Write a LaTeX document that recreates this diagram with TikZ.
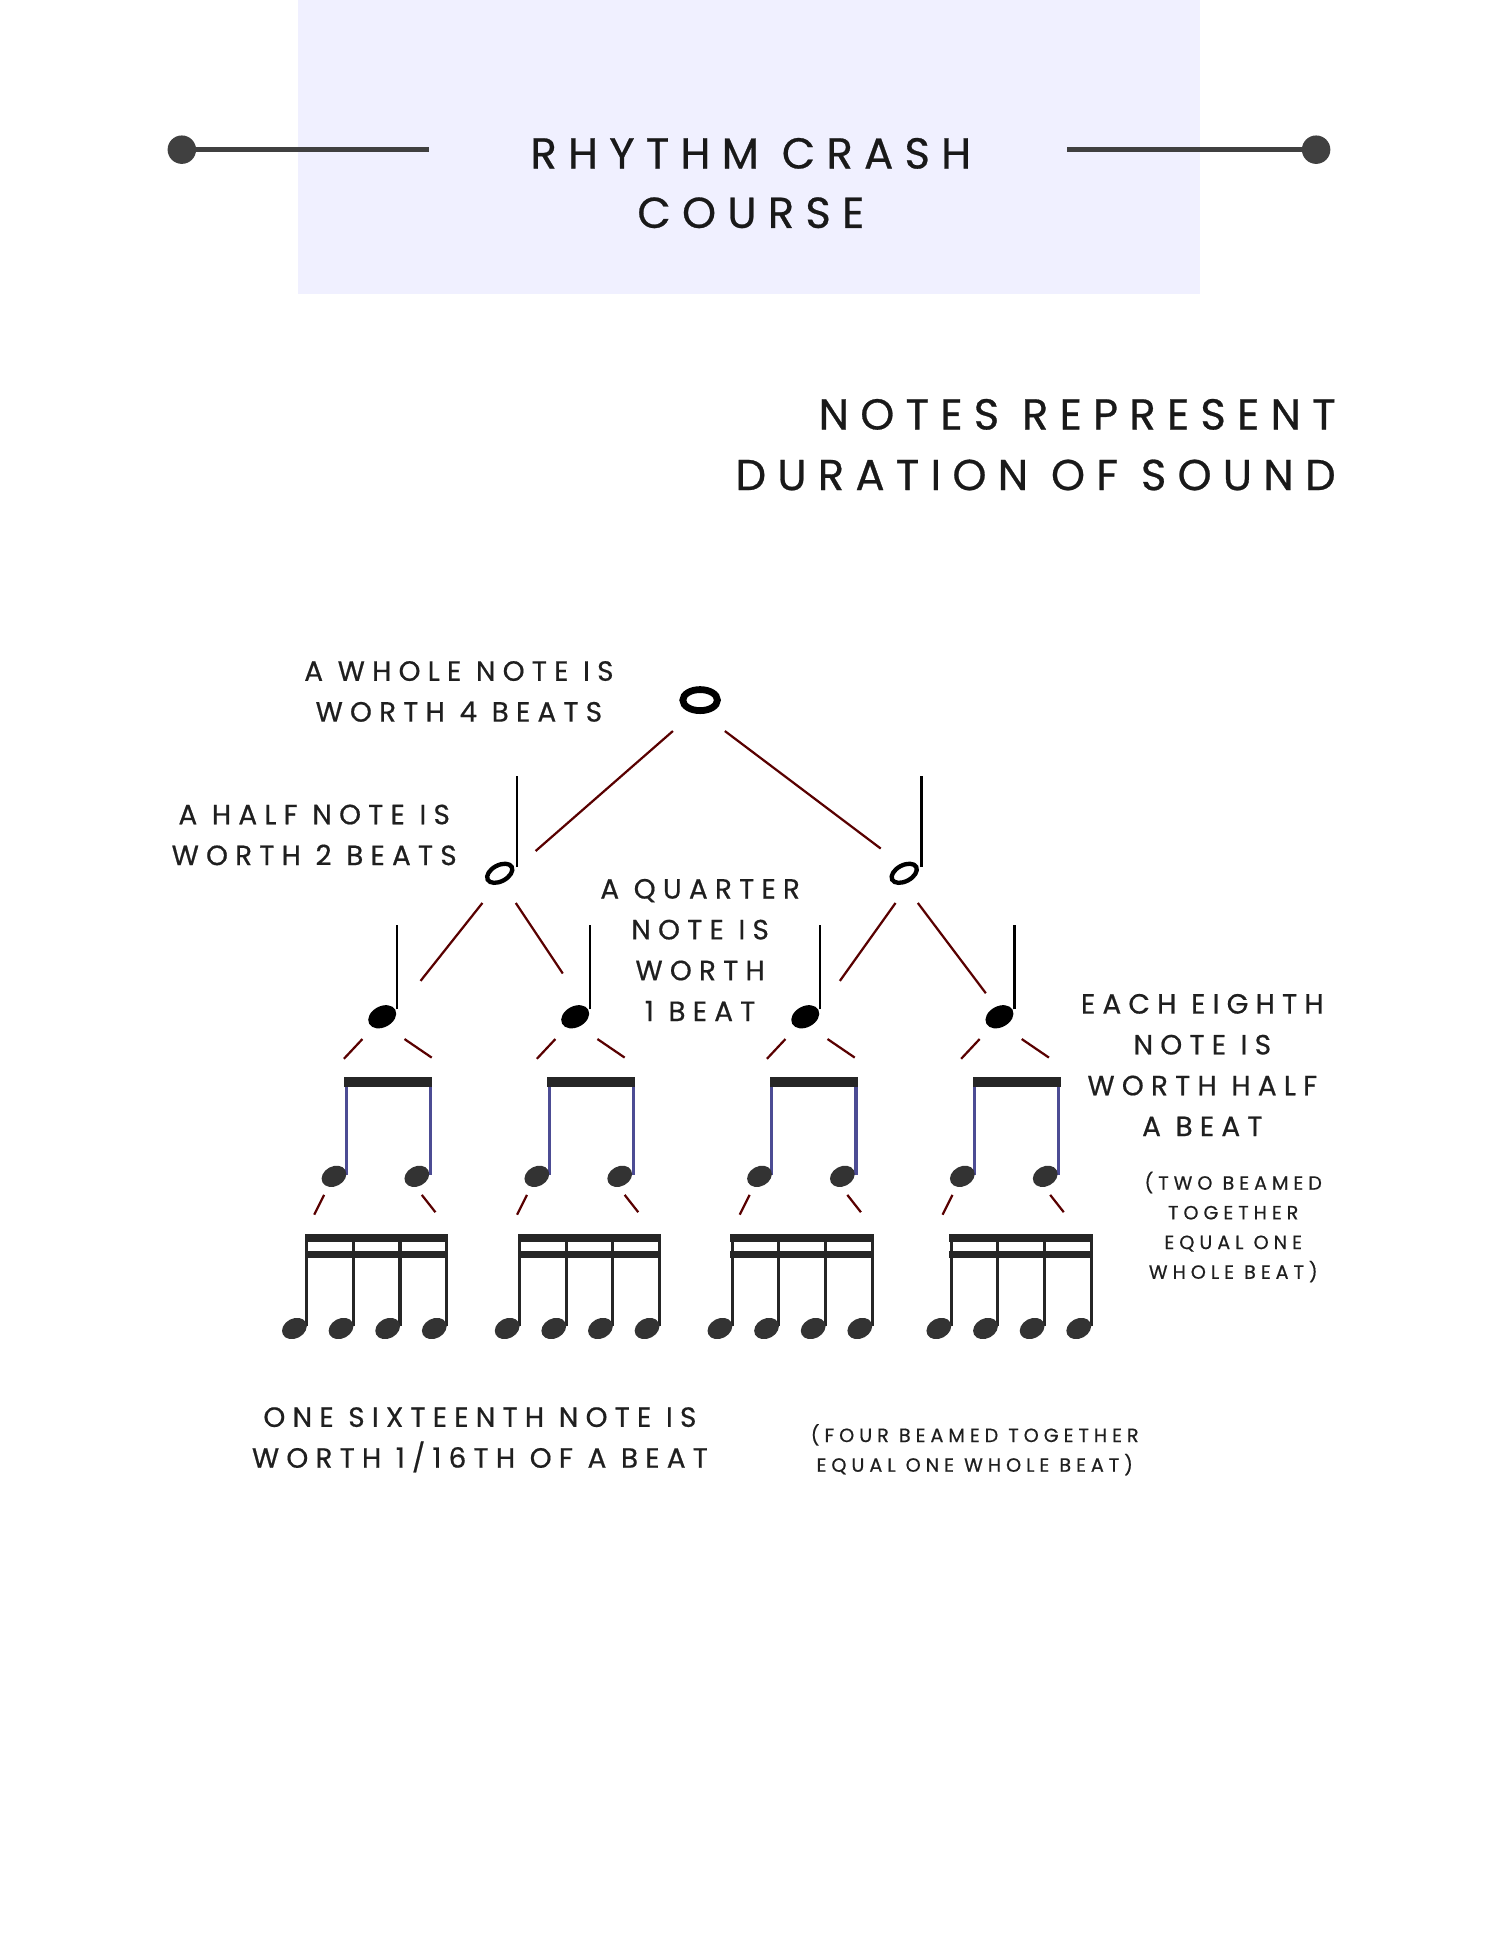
\documentclass[tikz,border=0pt]{standalone}
\usepackage{fontspec}
\setmainfont{Poppins}[LetterSpace=26,FakeBold=0.6]
\begin{document}
\begin{tikzpicture}[x=1pt,y=-1pt,
  lbl/.style={font=\fontsize{22.5}{33}\selectfont, text=black!88, align=center, inner sep=0pt},
  small/.style={font=\fontsize{15.5}{24}\selectfont, text=black!88, align=center, inner sep=0pt},
  big/.style={font=\fontsize{35}{49}\selectfont, text=black!90, inner sep=0pt},
  link/.style={draw=red!35!black, line width=1.8pt},
  head/.pic={\fill[rotate=28] (0,0) ellipse (12 and 8.5);},
  shead/.pic={\fill[black!80,rotate=28] (0,0) ellipse (10.5 and 8);},
  hhead/.pic={\draw[line width=3.5pt,rotate=28] (0,0) ellipse (11 and 6.5);},
  whole/.pic={\draw[line width=5.5pt] (0,0) ellipse (14 and 8.5);},
  quarter/.pic={\pic at (0,0) {head}; \draw[line width=2pt] (12,-6) -- (12,-74);},
  half/.pic={\pic at (0,0) {hhead}; \draw[line width=2pt] (14,-5) -- (14,-79);},
  eighths/.pic={\draw[line width=2.5pt,black!30!blue!40!gray] (0,0) -- (0,76) (68,0) -- (68,76);
    \fill[black!85] (-1.5,-3) rectangle (69.5,5);
    \pic[black!80!teal] at (-10,77) {shead}; \pic[black!80!teal] at (57,77) {shead};},
  sixteenths/.pic={\foreach \i in {0,1,2,3}{\draw[line width=2.5pt,black!85] (\i*37.7,0) -- (\i*37.7,72); \pic at (\i*37.7-10,74) {shead};}
    \fill[black!85] (-1.5,-2) rectangle (114.5,4); \fill[black!85] (-1.5,11) rectangle (114.5,17);}
]
\useasboundingbox (0,0) rectangle (1213,1570);
\fill[blue!6!white] (241,0) rectangle (970,238);
\fill[black!75] (147,121) circle (11.5) (1064,121) circle (11.5);
\coordinate (l1) at (147,121); \coordinate (l2) at (347,121);
\coordinate (r1) at (863,121); \coordinate (r2) at (1064,121);
\draw[black!75,line width=4pt] (l1) -- (l2) (r1) -- (r2);
\node[big] (t1) at (607,124) {RHYTHM CRASH};
\node[big] (t2) at (607,172) {COURSE};
\node[big,anchor=east] (h1) at (1080,335) {NOTES REPRESENT};
\node[big,anchor=east] (h2) at (1080,384) {DURATION OF SOUND};

% notes
\pic at (566,566) {whole};
\pic at (404,706) {half};
\pic at (731,706) {half};
\foreach \x in {309,465,651,808} \pic at (\x,822) {quarter};
\foreach \x in {280,444,624,788} \pic at (\x,874) {eighths};
\foreach \x in {248,420,592,769} \pic at (\x,1000) {sixteenths};

% connectors
\draw[link] (544,591) -- (433,688) (586,591) -- (712,686);
\draw[link] (390,730) -- (340,793) (417,730) -- (455,787)
            (724,730) -- (679,793) (742,730) -- (797,803);
\foreach \x in {309,465,651,808}{\draw[link] (\x-16,840) -- (\x-31,856) (\x+18,840) -- (\x+40,855);}
\foreach \x in {280,444,624,788}{\draw[link] (\x-18,966) -- (\x-26,982) (\x+61,966) -- (\x+72,980);}

% labels
\node[lbl] (a) at (371,559) {A WHOLE NOTE IS\\WORTH 4 BEATS};
\node[lbl] (b) at (254,675) {A HALF NOTE IS\\WORTH 2 BEATS};
\node[lbl] (c) at (566,768) {A QUARTER\\NOTE IS\\WORTH\\1 BEAT};
\node[lbl] (d) at (972,861) {EACH EIGHTH\\NOTE IS\\WORTH HALF\\A BEAT};
\node[small] (e) at (997,992) {(TWO BEAMED\\TOGETHER\\EQUAL ONE\\WHOLE BEAT)};
\node[lbl] (f) at (388,1164) {ONE SIXTEENTH NOTE IS\\WORTH 1/16TH OF A BEAT};
\node[small] (g) at (788,1172) {(FOUR BEAMED TOGETHER\\EQUAL ONE WHOLE BEAT)};
\end{tikzpicture}
\end{document}
